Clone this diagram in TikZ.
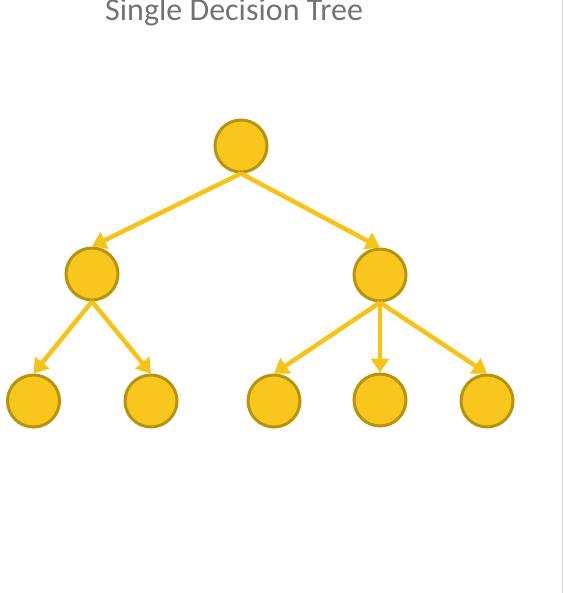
\documentclass[tikz,border=0pt]{standalone}
\usepackage{fontspec}
\newfontfamily\titlefont{Carlito}
\usetikzlibrary{arrows.meta}
\definecolor{nodefill}{HTML}{F8C61C}
\definecolor{nodeedge}{HTML}{B8940E}
\definecolor{arrowcol}{HTML}{F6C316}
\definecolor{titlecol}{HTML}{737373}
\begin{document}
\begin{tikzpicture}[x=1pt,y=-1pt,
  treenode/.style={circle,fill=nodefill,draw=nodeedge,line width=3pt,minimum size=52pt,inner sep=0pt},
  branch/.style={draw=arrowcol,line width=4.5pt,-{Triangle[length=14pt,width=18pt]}}]
\useasboundingbox (0,0) rectangle (563,593);
\fill[white] (0,0) rectangle (563,593);
\draw[gray!25,line width=1pt] (562,0) -- (562,593);
\node[anchor=base west,text=titlecol,font=\titlefont\fontsize{32}{36}\selectfont,inner sep=0pt] (title) at (105,21) {Single Decision Tree};
\node[treenode] (root) at (241,146) {};
\node[treenode] (l) at (92,274) {};
\node[treenode] (r) at (380,275) {};
\node[treenode] (ll) at (33.5,401) {};
\node[treenode] (lr) at (151,401) {};
\node[treenode] (rl) at (274,401) {};
\node[treenode] (rm) at (380,400) {};
\node[treenode] (rr) at (487,401) {};
\draw[branch] (root.south) -- (l.north);
\draw[branch] (root.south) -- (r.north);
\draw[branch] (l.south) -- (ll.north);
\draw[branch] (l.south) -- (lr.north);
\draw[branch] (r.south) -- (rl.north);
\draw[branch] (r.south) -- (rm.north);
\draw[branch] (r.south) -- (rr.north);
\end{tikzpicture}
\end{document}
